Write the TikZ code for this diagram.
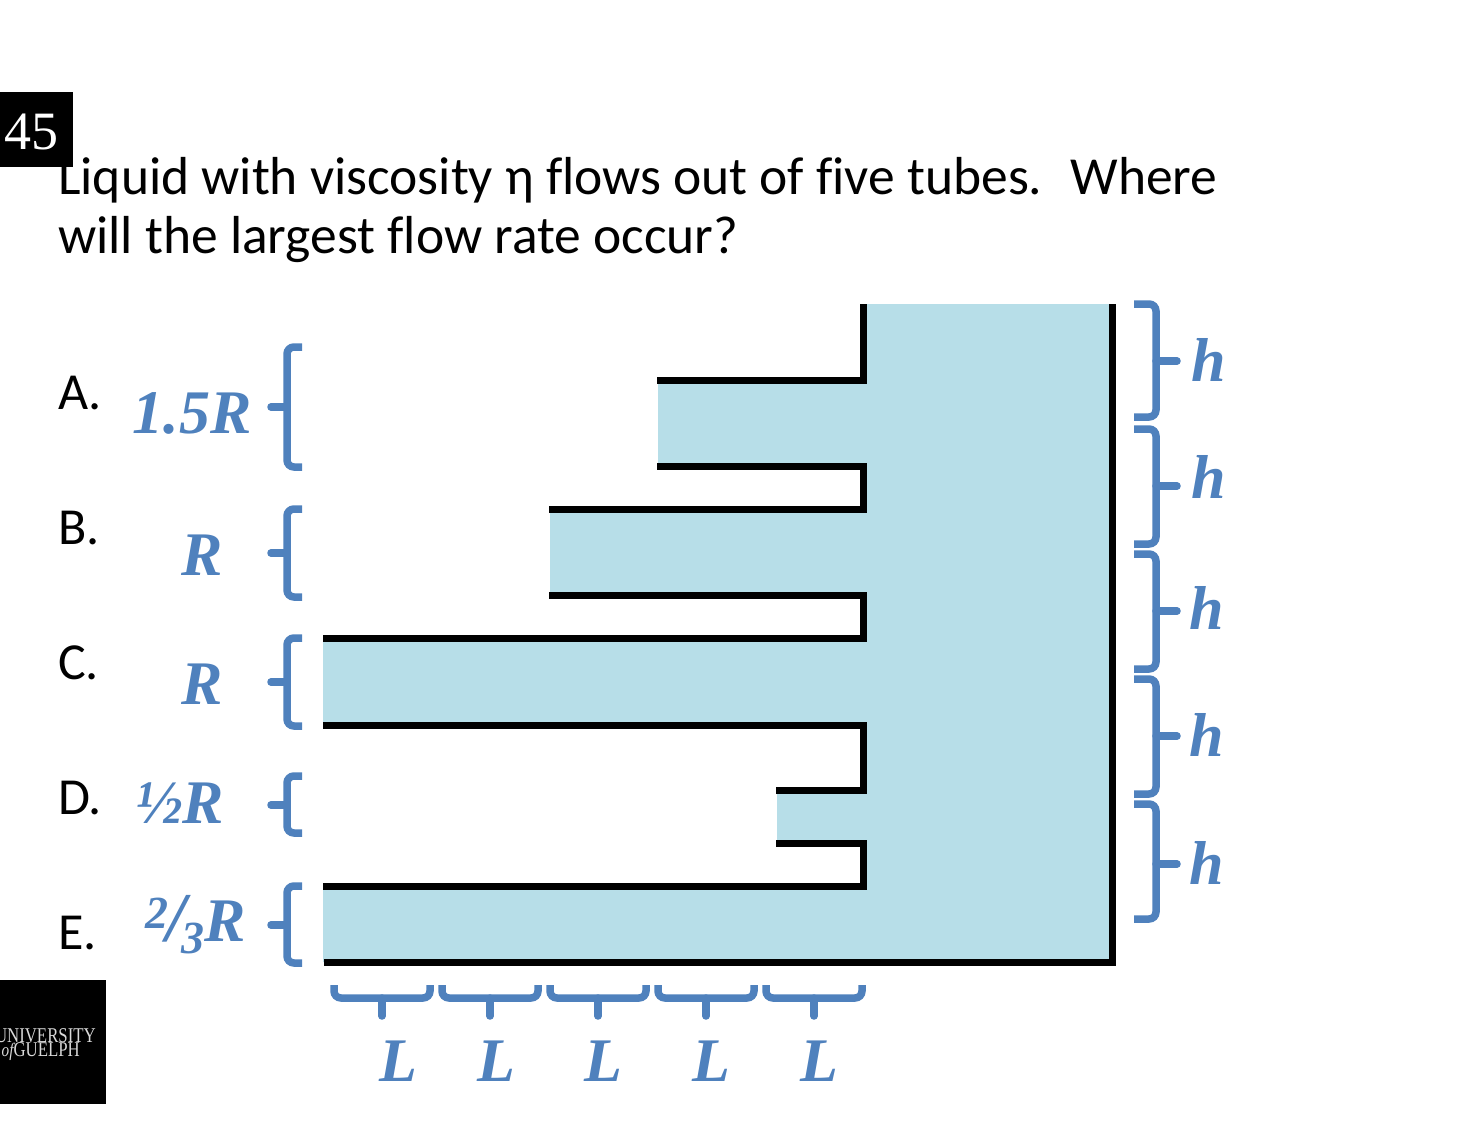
\documentclass[tikz,border=0pt]{standalone}
\usepackage{fontspec}
\setmainfont[Ligatures=CommonOff]{Carlito}
\newfontfamily\serifbi[BoldFont={Liberation Serif Bold Italic}]{Liberation Serif}
\newfontfamily\logofont[FakeStretch=0.8]{Liberation Serif}
\definecolor{liquid}{HTML}{B7DEE8}
\definecolor{braceblue}{HTML}{4F81BD}
\newcommand{\fsz}[1]{\fontsize{#1}{#1}\selectfont}
\newcommand{\lbraceat}[3]{\draw[bracestyle,rounded corners=7] (302,#1) -- (287,#1) -- (287,#2) -- (302,#2);
  \draw[bracetip] (287,#3) -- (271,#3);}
\newcommand{\rbraceat}[3]{\draw[bracestyle,rounded corners=7] (1134,#1) -- (1156,#1) -- (1156,#2) -- (1134,#2);
  \draw[bracetip] (1156,#3) -- (1177,#3);}
\newcommand{\bbraceat}[3]{\draw[bracestyle,rounded corners=7] (#1,985) -- (#1,998) -- (#2,998) -- (#2,985);
  \draw[bracetip] (#3,998) -- (#3,1016);}
\tikzset{
  x=1pt,y=-1pt,
  bracestyle/.style={draw=braceblue,line width=7.5pt,line cap=butt},
  bracetip/.style={draw=braceblue,line width=7.5pt,line cap=round},
  wall/.style={draw=black,line width=7pt,line cap=rect,line join=miter},
  body/.style={anchor=base west,inner sep=0pt,font=\fsz{53.5}},
  choice/.style={anchor=base west,inner sep=0pt,font=\fsz{52}},
  var/.style={inner sep=0pt,anchor=base,text=braceblue,font=\serifbi\bfseries\fsz{62}},
  logotext/.style={anchor=base east,inner sep=0pt,text=white!85!black,font=\logofont\fsz{21}},
}
\begin{document}
\begin{tikzpicture}
\useasboundingbox (0,0) rectangle (1464,1148);
% text
\node[body] (line1) at (58,194) {Liquid with viscosity η flows out of five tubes.\hspace{12pt} Where};
\node[body] (line2) at (58,253) {will the largest flow rate occur?};
% number tag
\fill[black] (0,92) rectangle (73,167);
\node[anchor=base west,inner sep=0pt,text=white,font=\serifbi\fsz{54}] (num) at (4,149) {45};
% liquid
\fill[liquid] (864,304) -- (1112,304) -- (1112,962) -- (323,962) -- (323,886) -- (864,886)
  -- (864,843) -- (777,843) -- (777,790) -- (864,790) -- (864,725) -- (323,725) -- (323,638)
  -- (864,638) -- (864,595) -- (550,595) -- (550,509) -- (864,509) -- (864,466) -- (658,466)
  -- (658,380) -- (864,380) -- cycle;
% walls
\draw[wall] (863,307) -- (863,380) -- (660,380);
\draw[wall] (660,466) -- (863,466) -- (863,509) -- (552,509);
\draw[wall] (552,595) -- (863,595) -- (863,638) -- (326,638);
\draw[wall] (326,725) -- (863,725) -- (863,790) -- (779,790);
\draw[wall] (779,843) -- (863,843) -- (863,886) -- (326,886);
\draw[wall] (327,962) -- (1112,962) -- (1112,307);
% left braces
\lbraceat{347}{467}{407}
\lbraceat{509}{597}{553}
\lbraceat{638}{726}{682}
\lbraceat{776}{833}{805}
\lbraceat{886}{963}{925}
% right braces
\rbraceat{304}{417}{361}
\rbraceat{429}{544}{486}
\rbraceat{554}{669}{611}
\rbraceat{679}{794}{736}
\rbraceat{804}{919}{864}
% bottom braces
\bbraceat{334}{430}{382}
\bbraceat{442}{538}{490}
\bbraceat{550}{646}{598}
\bbraceat{658}{754}{706}
\bbraceat{766}{862}{814}
% choices
\node[choice] (A) at (58,409) {A.};
\node[choice] (B) at (58,544) {B.};
\node[choice] (C) at (58,679) {C.};
\node[choice] (D) at (58,814) {D.};
\node[choice] (E) at (58,949) {E.};
% radius labels
\node[var] (ra) at (192,433) {1.5R};
\node[var] (rb) at (202,575) {R};
\node[var] (rc) at (202,704) {R};
\node[var] (rd) at (180,823) {½R};
\node[var,anchor=base west] (re) at (145,941) {\raisebox{13pt}{\fsz{46}2}\hspace{-2pt}{\fsz{70}/}\hspace{-4pt}\raisebox{-12pt}{\fsz{46}3}\hspace{0pt}R};
% h labels
\node[var] (h1) at (1209,381) {h};
\node[var] (h2) at (1209,498) {h};
\node[var] (h3) at (1207,629) {h};
\node[var] (h4) at (1207,756) {h};
\node[var] (h5) at (1207,884) {h};
% L labels
\node[var] (l1) at (398,1081) {L};
\node[var] (l2) at (496,1081) {L};
\node[var] (l3) at (603,1081) {L};
\node[var] (l4) at (711,1081) {L};
\node[var] (l5) at (819,1081) {L};
% logo
\fill[black] (0,980) rectangle (106,1104);
\node[logotext] (uni) at (96,1042) {UNIVERSITY};
\node[logotext] (gue) at (80,1056) {{\fsz{19}\itshape of}GUELPH};
\end{tikzpicture}
\end{document}
